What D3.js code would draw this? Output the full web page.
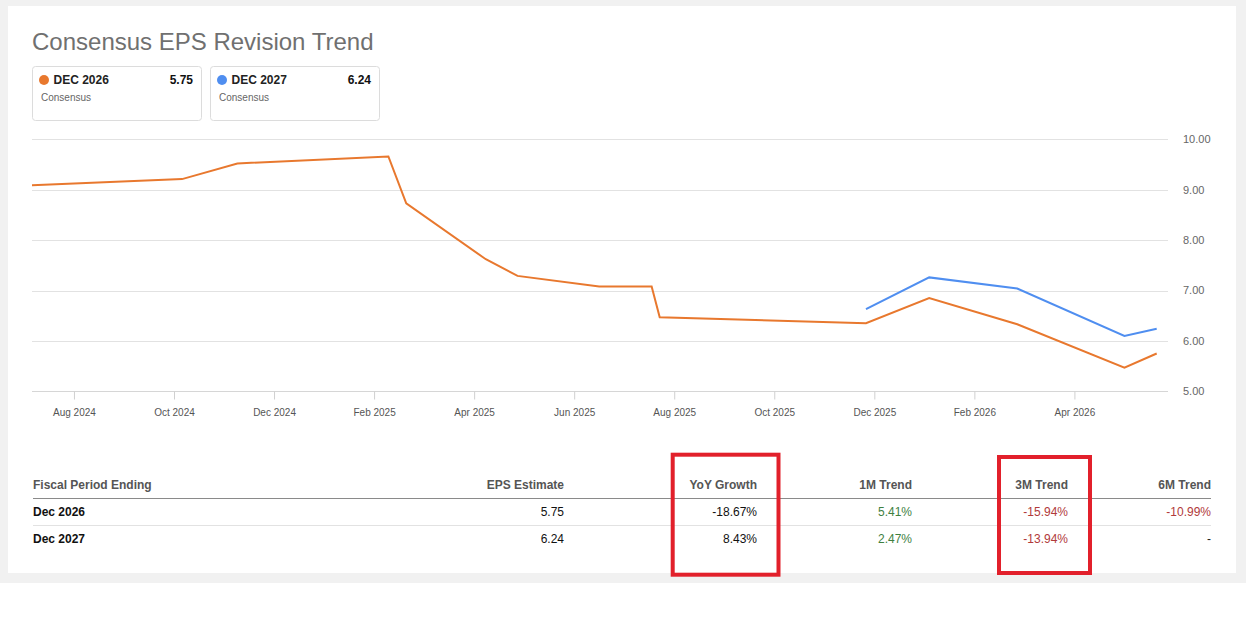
<!DOCTYPE html>
<html><head><meta charset="utf-8">
<script src="https://cdn.jsdelivr.net/npm/d3@7"></script>
<style>
html,body{margin:0;padding:0;background:#fff;}
svg{display:block;font-family:"Liberation Sans",Arial,Helvetica,sans-serif;}
</style>
</head><body>
<svg id="chart" width="1246" height="617"></svg>
<script>
// ---------- data ----------
const chartTitle = "Consensus EPS Revision Trend";
const seriesNames = ["DEC 2026", "DEC 2027"];
const seriesColors = ["#e8782e", "#4f8ef0"];
const latestValues = ["5.75", "6.24"];
const legendSubLabel = "Consensus";

const dates2026 = ["2024-07-06","2024-10-06","2024-11-09","2025-02-09","2025-02-19","2025-04-08","2025-04-27","2025-06-16","2025-07-18","2025-07-23","2025-11-26","2026-01-04","2026-02-25","2026-05-01","2026-05-21"];
const eps2026   = [9.09, 9.21, 9.52, 9.66, 8.73, 7.62, 7.29, 7.08, 7.08, 6.47, 6.35, 6.85, 6.33, 5.47, 5.75];
const dates2027 = ["2025-11-26","2026-01-04","2026-02-25","2026-05-01","2026-05-21"];
const eps2027   = [6.63, 7.26, 7.04, 6.10, 6.24];

const xDomainDates = ["2024-07-06", "2026-05-28"];
const xTickDates  = ["2024-08-01","2024-10-01","2024-12-01","2025-02-01","2025-04-01","2025-06-01","2025-08-01","2025-10-01","2025-12-01","2026-02-01","2026-04-01"];
const xTickLabels = ["Aug 2024","Oct 2024","Dec 2024","Feb 2025","Apr 2025","Jun 2025","Aug 2025","Oct 2025","Dec 2025","Feb 2026","Apr 2026"];
const yDomain = [5, 10];
const yTicks = [5, 6, 7, 8, 9, 10];

const tableColumns = ["Fiscal Period Ending","EPS Estimate","YoY Growth","1M Trend","3M Trend","6M Trend"];
const tablePeriods = ["Dec 2026","Dec 2027"];
const epsEstimates = ["5.75","6.24"];
const yoyGrowth    = ["-18.67%","8.43%"];
const trend1M      = ["5.41%","2.47%"];
const trend3M      = ["-15.94%","-13.94%"];
const trend6M      = ["-10.99%","-"];

// ---------- helpers ----------
// month-uniform position (the axis spaces every month equally)
function monthIndex(s) {
  const [y, m, d] = s.split("-").map(Number);
  const dim = new Date(Date.UTC(y, m, 0)).getUTCDate();
  return (y - 2024) * 12 + (m - 1) - 7 + (d - 1) / dim;
}

const svg = d3.select("#chart");

// backgrounds
svg.append("rect").attr("x",0).attr("y",0).attr("width",1246).attr("height",583).attr("fill","#f1f1f1");
svg.append("rect").attr("x",8).attr("y",6).attr("width",1228).attr("height",567).attr("fill","#ffffff");

// title
svg.append("text").attr("x",32).attr("y",50).attr("font-size",24).attr("fill","#707070").text(chartTitle);

// legend boxes
const legend = svg.append("g").selectAll("g").data(seriesNames).join("g")
  .attr("transform",(d,i)=>`translate(${i*178},0)`);
legend.append("rect").attr("x",32.5).attr("y",66.5).attr("width",169).attr("height",54).attr("rx",3)
  .attr("fill","#fff").attr("stroke","#dcdcdc");
legend.append("circle").attr("cx",44).attr("cy",80).attr("r",5).attr("fill",(d,i)=>seriesColors[i]);
legend.append("text").attr("x",53.5).attr("y",84.3).attr("font-size",12).attr("font-weight","bold").attr("fill","#222").text(d=>d);
legend.append("text").attr("x",193).attr("y",84.3).attr("text-anchor","end").attr("font-size",12).attr("font-weight","bold").attr("fill","#111").text((d,i)=>latestValues[i]);
legend.append("text").attr("x",41).attr("y",101).attr("font-size",10).attr("fill","#666").text(legendSubLabel);

// scales
const x = d3.scaleLinear().domain(xDomainDates.map(monthIndex)).range([32, 1168]);
const y = d3.scaleLinear().domain(yDomain).range([391.3, 139.3]);

// grid
const grid = svg.append("g");
grid.selectAll("line").data(yTicks).join("line")
  .attr("x1",32).attr("x2",1168)
  .attr("y1",d=>Math.round(y(d))+0.5).attr("y2",d=>Math.round(y(d))+0.5)
  .attr("stroke",d=>d===yDomain[0]?"#d6d6d6":"#e2e2e2").attr("stroke-width",1);

// y labels (right)
svg.append("g").selectAll("text").data(yTicks).join("text")
  .attr("x",1183).attr("y",d=>y(d)).attr("dy","0.36em")
  .attr("font-size",11).attr("fill","#666").text(d=>d3.format(".2f")(d));

// x axis
const xAxis = d3.axisBottom(x)
  .tickValues(xTickDates.map(monthIndex))
  .tickFormat((d,i)=>xTickLabels[i])
  .tickSize(8).tickSizeOuter(0);
const gx = svg.append("g").attr("transform",`translate(0,${Math.round(y(yDomain[0]))+0.5})`).call(xAxis);
gx.select(".domain").remove();
gx.selectAll(".tick line").attr("stroke","#d0d0d0");
gx.selectAll(".tick text").attr("y",17.5).attr("font-size",10).attr("fill","#555")
  .attr("font-family",'"Liberation Sans",Arial,sans-serif');

// lines
const line = d3.line().x(d=>x(monthIndex(d[0]))).y(d=>y(d[1]));
const series = [d3.zip(dates2026, eps2026), d3.zip(dates2027, eps2027)];
svg.append("g").selectAll("path").data(series).join("path")
  .attr("d",line).attr("fill","none")
  .attr("stroke",(d,i)=>seriesColors[i]).attr("stroke-width",2);

// table
const colX = [33, 564, 757, 912, 1068, 1211];
const colAnchor = ["start","end","end","end","end","end"];
const table = svg.append("g");
table.selectAll("text.h").data(tableColumns).join("text").attr("class","h")
  .attr("x",(d,i)=>colX[i]).attr("y",488.6).attr("text-anchor",(d,i)=>colAnchor[i])
  .attr("font-size",12).attr("font-weight","bold").attr("fill","#555").text(d=>d);
table.append("line").attr("x1",33).attr("x2",1211).attr("y1",498.5).attr("y2",498.5).attr("stroke","#8a8a8a");
table.append("line").attr("x1",33).attr("x2",1211).attr("y1",525.5).attr("y2",525.5).attr("stroke","#e2e2e2");

function valueColor(v, col) {
  if (col <= 2) return "#111";
  if (v === "-") return "#222";
  return v.trim().startsWith("-") ? "#b13a3a" : "#3f7f3f";
}
const rowBaselines = [516, 543.3];
tablePeriods.forEach((p, r) => {
  const cells = [p, epsEstimates[r], yoyGrowth[r], trend1M[r], trend3M[r], trend6M[r]];
  table.selectAll(null).data(cells).join("text")
    .attr("x",(d,i)=>colX[i]).attr("y",rowBaselines[r]).attr("text-anchor",(d,i)=>colAnchor[i])
    .attr("font-size",12).attr("font-weight",(d,i)=>i===0?"bold":"normal")
    .attr("fill",(d,i)=>i===0?"#111":valueColor(d,i)).text(d=>d);
});

// red highlight boxes (annotation)
const highlightCols = [2, 4];
const boxes = [{x:672.7,y:454.7,w:105.8,h:120},{x:999,y:457,w:91,h:116}];
svg.append("g").selectAll("rect").data(boxes).join("rect")
  .attr("x",d=>d.x).attr("y",d=>d.y).attr("width",d=>d.w).attr("height",d=>d.h)
  .attr("fill","none").attr("stroke","#e2202b").attr("stroke-width",4);
</script>
</body></html>
